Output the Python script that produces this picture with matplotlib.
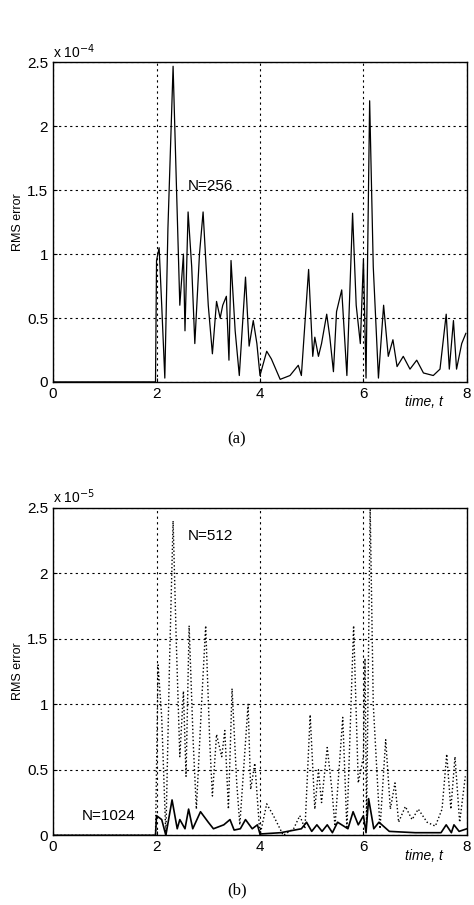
import matplotlib
matplotlib.use("Agg")
import matplotlib.pyplot as plt

plt.rcParams["font.family"] = ["Liberation Sans", "DejaVu Sans"]

# top panel, N=256 (units of 1e-4)
t_256 = [0, 1.98, 2.0, 2.05, 2.1, 2.16, 2.22, 2.32, 2.38, 2.45, 2.52, 2.55, 2.61, 2.68,
         2.74, 2.83, 2.9, 3.0, 3.08, 3.16, 3.23, 3.28, 3.35, 3.4, 3.44, 3.52, 3.6, 3.72,
         3.79, 3.87, 3.94, 4.0, 4.13, 4.22, 4.39, 4.58, 4.74, 4.8, 4.94, 5.02, 5.06, 5.13,
         5.19, 5.29, 5.35, 5.42, 5.48, 5.58, 5.68, 5.79, 5.86, 5.94, 6.0, 6.05, 6.12, 6.19,
         6.29, 6.39, 6.48, 6.57, 6.65, 6.77, 6.9, 7.03, 7.16, 7.35, 7.48, 7.6, 7.66, 7.74,
         7.8, 7.9, 7.98]
rms_256 = [0, 0, 0.95, 1.05, 0.6, 0.03, 1.2, 2.47, 1.6, 0.6, 1.0, 0.4, 1.33, 0.9,
           0.3, 1.0, 1.33, 0.6, 0.22, 0.63, 0.5, 0.6, 0.67, 0.17, 0.95, 0.4, 0.05, 0.82,
           0.28, 0.48, 0.3, 0.05, 0.24, 0.18, 0.02, 0.05, 0.13, 0.05, 0.88, 0.2, 0.35, 0.2,
           0.3, 0.53, 0.35, 0.08, 0.55, 0.72, 0.05, 1.32, 0.6, 0.3, 0.96, 0.03, 2.2, 0.9,
           0.03, 0.6, 0.2, 0.33, 0.12, 0.2, 0.1, 0.17, 0.07, 0.05, 0.1, 0.53, 0.1, 0.48,
           0.1, 0.3, 0.38]

# bottom panel, N=512 (units of 1e-5)
t_512 = [0, 1.98, 2.03, 2.1, 2.18, 2.25, 2.32, 2.38, 2.45, 2.52, 2.57, 2.63, 2.71, 2.77,
         2.87, 2.95, 3.03, 3.08, 3.16, 3.26, 3.32, 3.39, 3.46, 3.55, 3.61, 3.77, 3.82, 3.9,
         4.0, 4.13, 4.26, 4.45, 4.65, 4.77, 4.87, 4.97, 5.06, 5.13, 5.19, 5.3, 5.39, 5.45,
         5.6, 5.68, 5.81, 5.9, 6.0, 6.03, 6.06, 6.13, 6.19, 6.32, 6.43, 6.52, 6.61, 6.68,
         6.81, 6.94, 7.06, 7.23, 7.39, 7.52, 7.61, 7.69, 7.77, 7.86, 7.97]
rms_512 = [0, 0, 1.3, 0.9, 0.0, 1.3, 2.4, 1.5, 0.6, 1.1, 0.45, 1.6, 0.7, 0.2,
           1.0, 1.6, 0.7, 0.3, 0.77, 0.6, 0.8, 0.2, 1.12, 0.4, 0.08, 1.0, 0.35, 0.55,
           0.0, 0.24, 0.15, 0.0, 0.05, 0.15, 0.05, 0.92, 0.2, 0.5, 0.25, 0.67, 0.35, 0.07,
           0.9, 0.05, 1.6, 0.4, 0.6, 1.35, 0.1, 2.5, 1.0, 0.05, 0.73, 0.2, 0.4, 0.1,
           0.22, 0.12, 0.2, 0.1, 0.07, 0.2, 0.62, 0.2, 0.6, 0.1, 0.45]

# bottom panel, N=1024 (units of 1e-5)
t_1024 = [0, 1.98, 2.0, 2.1, 2.18, 2.3, 2.4, 2.45, 2.55, 2.62, 2.7, 2.85, 3.0, 3.1, 3.3,
          3.42, 3.5, 3.62, 3.72, 3.85, 3.95, 4.0, 4.4, 4.8, 4.9, 5.0, 5.1, 5.2, 5.3, 5.4,
          5.5, 5.7, 5.8, 5.9, 6.0, 6.05, 6.1, 6.2, 6.3, 6.5, 7.0, 7.5, 7.6, 7.7, 7.75,
          7.85, 8.0]
rms_1024 = [0, 0, 0.15, 0.12, 0.0, 0.27, 0.05, 0.12, 0.05, 0.2, 0.05, 0.18, 0.1, 0.05, 0.08,
            0.12, 0.04, 0.05, 0.12, 0.05, 0.08, 0.01, 0.02, 0.05, 0.1, 0.03, 0.08, 0.03, 0.08, 0.02,
            0.1, 0.05, 0.18, 0.08, 0.15, 0.02, 0.28, 0.05, 0.1, 0.03, 0.02, 0.02, 0.08, 0.02, 0.08,
            0.03, 0.05]

x_ticks = [0, 2, 4, 6, 8]
y_ticks = [0, 0.5, 1, 1.5, 2, 2.5]
y_tick_labels = ["0", "0.5", "1", "1.5", "2", "2.5"]


def style_axes(ax, exponent):
    ax.set_xlim(0, 8)
    ax.set_ylim(0, 2.5)
    ax.set_xticks(x_ticks)
    ax.set_yticks(y_ticks)
    ax.set_yticklabels(y_tick_labels)
    ax.tick_params(direction="in", labelsize=11, length=3)
    ax.grid(True, color="black", linestyle=(0, (2, 3)), linewidth=0.8)
    ax.set_ylabel("RMS error", fontsize=9, labelpad=2)
    ax.text(0.0, 1.015, "x 10$^{" + exponent + "}$", transform=ax.transAxes, fontsize=10)
    ax.text(0.85, -0.075, "time, t", transform=ax.transAxes, fontsize=10, style="italic")
    for spine in ax.spines.values():
        spine.set_linewidth(1.0)


fig = plt.figure(figsize=(4.74, 9.05), dpi=100)

ax1 = fig.add_axes([0.112, 0.578, 0.873, 0.353])
ax1.plot(t_256, rms_256, color="black", linewidth=0.9)
ax1.text(2.6, 1.5, "N=256", fontsize=11)
style_axes(ax1, "-4")
fig.text(0.5, 0.51, "(a)", ha="center", fontsize=12, family="Liberation Serif")

ax2 = fig.add_axes([0.112, 0.077, 0.873, 0.362])
ax2.plot(t_512, rms_512, color="black", linewidth=1.0, linestyle=":")
ax2.plot(t_1024, rms_1024, color="black", linewidth=1.2)
ax2.text(2.6, 2.25, "N=512", fontsize=11)
ax2.text(0.55, 0.12, "N=1024", fontsize=11)
style_axes(ax2, "-5")
fig.text(0.5, 0.012, "(b)", ha="center", fontsize=12, family="Liberation Serif")

fig.savefig("out.png", dpi=100)
